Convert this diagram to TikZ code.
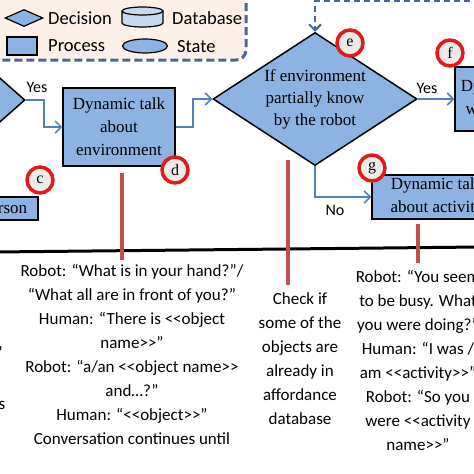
\documentclass[tikz,border=0pt]{standalone}
\usepackage{fontspec}
\setmainfont{Liberation Serif}
\newfontfamily\calib{Carlito}
\usetikzlibrary{shapes.geometric,arrows.meta}
\definecolor{procfill}{HTML}{8DB3E2}
\definecolor{cylfill}{HTML}{C6D9F1}
\definecolor{arrowblue}{HTML}{4F81BD}
\definecolor{calloutred}{HTML}{C0504D}
\definecolor{badgered}{HTML}{E31A1C}
\definecolor{badgefill}{HTML}{EDEBE7}
\definecolor{legendblue}{HTML}{4A6894}
\definecolor{legendfill}{HTML}{FDF0E8}
\tikzset{
  procbox/.style={draw=black, line width=1.5, fill=procfill, font=\fontsize{17}{23}\selectfont, align=center, inner sep=0},
  decbox/.style={diamond, draw=black, line width=1.5, fill=procfill, font=\fontsize{17}{22}\selectfont, align=center, inner sep=0, aspect=1.53},
  badge/.style={circle, draw=badgered, line width=3.5, fill=badgefill, minimum size=26, inner sep=0, font=\fontsize{16}{16}\selectfont},
  flow/.style={draw=arrowblue, line width=1.5, -{Straight Barb[length=6pt,width=12pt]}},
  dashflow/.style={draw=legendblue, line width=2, dash pattern=on 6pt off 4pt, -{Straight Barb[length=6pt,width=12pt]}},
  callout/.style={draw=calloutred, line width=4},
  talk/.style={font=\calib\fontsize{17}{24}\selectfont, align=center, inner sep=0},
  legtext/.style={font=\calib\fontsize{18.5}{20}\selectfont, anchor=west, inner sep=0},
  lbl/.style={font=\calib\fontsize{16}{16}\selectfont, inner sep=0},
}
\begin{document}
\begin{tikzpicture}[x=1pt,y=-1pt]
\useasboundingbox (0,0) rectangle (474,474);
\clip (0,0) rectangle (474,474);
\fill[white] (0,0) rectangle (474,474);

% legend
\draw[draw=legendblue, line width=3, dash pattern=on 8pt off 4pt, fill=legendfill, rounded corners=10pt] (-30,-30) rectangle (246,60);
\node[diamond, draw=black, line width=1.2, fill=procfill, minimum width=38, minimum height=17, inner sep=0] (legdec) at (24,18) {};
\node[legtext] (legdectxt) at (48,18) {Decision};
\fill[cylfill] (122,11) -- (122,23) arc[start angle=180, end angle=0, x radius=20.5, y radius=4] -- (163,11) -- cycle;
\draw[line width=1.2] (122,11) -- (122,23) arc[start angle=180, end angle=0, x radius=20.5, y radius=4] -- (163,11);
\draw[line width=1.2, fill=cylfill] (142.5,11) ellipse[x radius=20.5, y radius=4];
\node[legtext] (legdbtxt) at (172,18) {Database};
\node[rectangle, draw=black, line width=1.2, fill=procfill, minimum width=30, minimum height=18, inner sep=0] (legproc) at (22,46) {};
\node[legtext] (legproctxt) at (48,46) {Process};
\node[ellipse, draw=black, line width=1.2, fill=procfill, minimum width=45, minimum height=14, inner sep=0] (legstate) at (145,46) {};
\node[legtext] (legstatetxt) at (177,47) {State};

% flow nodes
\node[diamond, draw=black, line width=1.5, fill=procfill, minimum width=170, minimum height=150, inner sep=0] (b) at (-60,100) {};
\node[procbox, minimum width=68, minimum height=23] (c) at (4,208.5) {Person};
\node[procbox, minimum width=112, minimum height=78] (d) at (119,127) {Dynamic talk\\about\\environment};
\node[decbox, minimum width=204, minimum height=133] (e) at (315,99) {If environment\\partially know\\by the robot};
\node[procbox, minimum width=104, minimum height=64] (f) at (507,99) {Dynamic talk\\with objects};
\node[procbox, minimum width=130, minimum height=44] (g) at (437,197) {Dynamic talk\\about activity};

% connectors
\draw[flow] (b.east) -- ++(18,0) |- (d.west);
\node[lbl] (yes1) at (37,87) {Yes};
\draw[flow] (d.east) -- ++(17,0) |- (e.west);
\draw[flow] (e.east) -- (f.west);
\node[lbl] (yes2) at (427,88) {Yes};
\draw[flow] (e.south) |- (g.west);
\node[lbl] (no) at (335,210) {No};
\coordinate (topin) at (480,1);
\draw[dashflow] (topin) -- (315,1) -- (e.north);

% badges
\node[badge] (bc) at (40,180) {c};
\node[badge] (bd) at (175,170) {d};
\node[badge] (be) at (350,43) {e};
\node[badge] (bf) at (450,53) {f};
\node[badge] (bg) at (372,168) {g};

% separator line
\draw[line width=3] (-5,252) -- (480,247);

% callouts
\coordinate (c1a) at (122,173); \coordinate (c1b) at (122,260);
\coordinate (c2a) at (288,160); \coordinate (c2b) at (288,285);
\coordinate (c3a) at (418,224); \coordinate (c3b) at (418,263);
\draw[callout] (c1a) -- (c1b);
\draw[callout] (c2a) -- (c2b);
\draw[callout] (c3a) -- (c3b);

% texts (base anchor = baseline of the last line)
\node[talk, anchor=base] (t1) at (132,444) {Robot: “What is in your hand?”/\\“What all are in front of you?”\\Human: “There is <<object\\name>>”\\Robot: “a/an <<object name>>\\and…?”\\Human: “<<object>>”\\Conversation continues until};
\node[talk, anchor=base] (t2) at (300,424) {Check if\\some of the\\objects are\\already in\\affordance\\database};
\node[talk, anchor=base] (t3) at (418,450) {Robot: “You seem\\to be busy. What\\you were doing?”\\Human: “I was /\\am <<activity>>”\\Robot: “So you\\were <<activity\\name>>”};
\node[talk, anchor=base east] (t0a) at (3,358) {”};
\node[talk, anchor=base east] (t0b) at (5.5,409) {s};
\end{tikzpicture}
\end{document}
